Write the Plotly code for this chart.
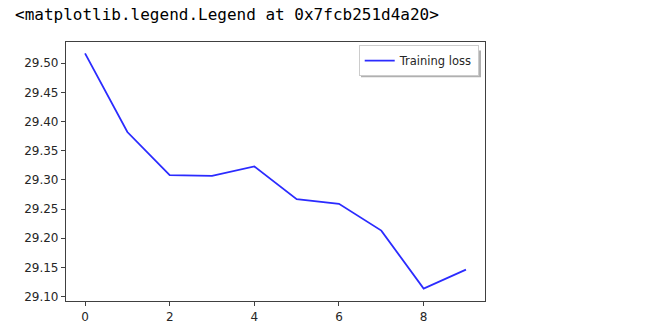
import plotly.graph_objects as go

epochs = list(range(10))
training_loss = [29.517, 29.382, 29.308, 29.307, 29.323, 29.267, 29.259, 29.213, 29.1135, 29.146]
y_ticks = [29.10, 29.15, 29.20, 29.25, 29.30, 29.35, 29.40, 29.45, 29.50]
x_ticks = [0, 2, 4, 6, 8]
header_text = "<matplotlib.legend.Legend at 0x7fcb251d4a20>"

W, H = 669, 336
L, R, T, B = 66, 485, 42, 314
PW, PH = R - L, B - T

fig = go.Figure()
fig.add_trace(go.Scatter(
    x=epochs, y=training_loss, mode="lines", name="Training loss",
    line=dict(color="rgba(20,20,255,0.9)", width=1.8),
))

tick_font = dict(family="DejaVu Sans", size=12, color="#262626")
fig.update_layout(
    width=W, height=H,
    margin=dict(l=L, r=W - R, t=T, b=H - B, pad=0),
    paper_bgcolor="white", plot_bgcolor="white",
    showlegend=True,
    legend=dict(
        x=0.985, y=0.988, xanchor="right", yanchor="top",
        bgcolor="white", bordercolor="#cccccc", borderwidth=1,
        font=dict(family="DejaVu Sans", size=11.5, color="#262626"),
        itemwidth=30, tracegroupgap=0,
    ),
    xaxis=dict(
        range=[-0.45, 9.45], tickvals=x_ticks, ticktext=[str(v) for v in x_ticks],
        showgrid=False, zeroline=False, showline=True, mirror=True,
        linecolor="#404040", linewidth=1.2, ticks="outside", ticklen=4,
        tickcolor="#404040", tickfont=tick_font,
    ),
    yaxis=dict(
        range=[29.0923, 29.5364], tickvals=y_ticks, ticktext=[f"{v:.2f}" for v in y_ticks],
        showgrid=False, zeroline=False, showline=True, mirror=True,
        linecolor="#404040", linewidth=1.2, ticks="outside", ticklen=4,
        tickcolor="#404040", tickfont=tick_font,
    ),
)

# legend drop shadow
fig.add_shape(
    type="rect", xref="paper", yref="paper", layer="above",
    x0=(361 - L) / PW, x1=(481 - L) / PW,
    y0=(B - 79) / PH, y1=(B - 51) / PH,
    fillcolor="#b0b0b0", line=dict(width=0),
)

fig.add_annotation(
    text=header_text.replace("<", "&lt;").replace(">", "&gt;"),
    xref="paper", yref="paper", x=(13 - L) / PW, y=1 + (T - 1) / PH,
    xanchor="left", yanchor="top", showarrow=False,
    font=dict(family="DejaVu Sans Mono", size=16, color="#000000"),
)

fig.write_html("out.html")
